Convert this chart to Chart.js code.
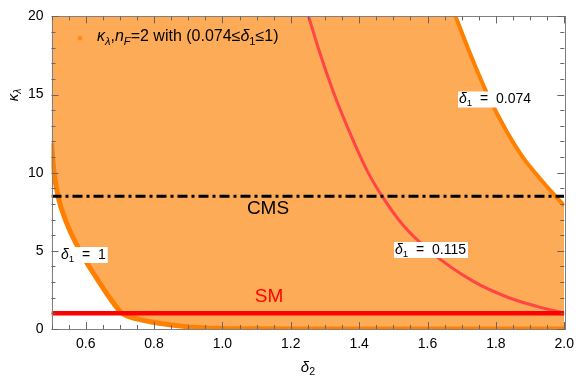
<!DOCTYPE html>
<html>
<head>
<meta charset="utf-8">
<script src="https://cdn.jsdelivr.net/npm/chart.js@4"></script>
<style>
  html, body { margin: 0; padding: 0; background: #fff; }
  #wrap { width: 581px; height: 382px; position: relative; }
</style>
</head>
<body>
<div id="wrap"><canvas id="c"></canvas></div>
<script>
// delta1 = 1 boundary (left)
const leftX = [0.5, 0.507, 0.519, 0.544, 0.583, 0.632, 0.67, 0.707, 0.75, 0.814, 0.91, 1.0, 1.1, 1.3, 2.0];
const leftY = [11.9, 10.1, 8.5, 6.8, 5.0, 3.25, 2.0, 1.0, 0.65, 0.37, 0.12, 0.04, 0.01, 0.0, 0.0];
// delta1 = 0.115 curve
const midX = [1.252, 1.283, 1.324, 1.372, 1.424, 1.467, 1.53, 1.606, 1.733, 1.838, 1.92, 2.0];
const midY = [20, 17.8, 15.2, 12.6, 10.1, 8.5, 6.6, 5.0, 3.06, 2.0, 1.45, 1.0];
// delta1 = 0.074 boundary (right)
const rightX = [1.682, 1.713, 1.74, 1.78, 1.83, 1.88, 1.93, 1.974, 2.0];
const rightY = [20, 18.25, 16.8, 14.8, 12.7, 10.95, 9.6, 8.5, 7.9];
const cmsValue = 8.5;
const smValue = 1;
const xRange = [0.5, 2.0];
const yRange = [0, 20];
const xTicks = [0.6, 0.8, 1.0, 1.2, 1.4, 1.6, 1.8, 2.0];
const yTicks = [0, 5, 10, 15, 20];

const FONT = "'Liberation Sans', Arial, sans-serif";
const pts = (xs, ys) => xs.map((x, i) => ({ x: x, y: ys[i] }));

function richWidth(ctx, parts, size) {
  let w = 0;
  parts.forEach(p => {
    const s = p.sub ? size * 0.7 : size;
    ctx.font = (p.italic ? 'italic ' : '') + s + 'px ' + FONT;
    w += ctx.measureText(p.t).width;
  });
  return w;
}
function drawRich(ctx, parts, x, y, size, color) {
  ctx.save();
  ctx.fillStyle = color;
  ctx.textBaseline = 'middle';
  ctx.textAlign = 'left';
  parts.forEach(p => {
    const s = p.sub ? size * 0.7 : size;
    ctx.font = (p.italic ? 'italic ' : '') + s + 'px ' + FONT;
    ctx.fillText(p.t, x, p.sub ? y + size * 0.3 : y);
    x += ctx.measureText(p.t).width;
  });
  ctx.restore();
}

const annotations = {
  id: 'annotations',
  afterDatasetsDraw(chart) {
    const { ctx, chartArea: a, scales: { x, y } } = chart;
    // frame
    ctx.save();
    ctx.strokeStyle = '#808080';
    ctx.lineWidth = 1;
    ctx.strokeRect(Math.round(a.left) + 0.5, Math.round(a.top) + 0.5,
      Math.round(a.right - a.left), Math.round(a.bottom - a.top));
    // inner ticks
    ctx.strokeStyle = '#666';
    ctx.beginPath();
    for (let v = 0.5; v <= 2.0001; v += 0.05) {
      const px = Math.round(x.getPixelForValue(v)) + 0.5;
      const major = xTicks.some(t => Math.abs(t - v) < 1e-6);
      const len = major ? 7 : 4;
      ctx.moveTo(px, a.bottom); ctx.lineTo(px, a.bottom - len);
      ctx.moveTo(px, a.top); ctx.lineTo(px, a.top + len);
    }
    for (let v = 0; v <= 20; v += 1) {
      const py = Math.round(y.getPixelForValue(v)) + 0.5;
      const len = yTicks.includes(v) ? 7 : 4;
      ctx.moveTo(a.left, py); ctx.lineTo(a.left + len, py);
      ctx.moveTo(a.right, py); ctx.lineTo(a.right - len, py);
    }
    ctx.stroke();
    ctx.restore();

    // boxed curve labels
    const boxes = [
      { parts: [{ t: 'δ', italic: true }, { t: '1', sub: true }, { t: '  =  1' }], x: 61, y: 255 },
      { parts: [{ t: 'δ', italic: true }, { t: '1', sub: true }, { t: '  =  0.115' }], x: 395, y: 250 },
      { parts: [{ t: 'δ', italic: true }, { t: '1', sub: true }, { t: '  =  0.074' }], x: 459, y: 99.5 }
    ];
    boxes.forEach(b => {
      const w = richWidth(ctx, b.parts, 14);
      ctx.fillStyle = '#fff';
      ctx.fillRect(b.x - 1, b.y - 8, w + 3, 16);
      drawRich(ctx, b.parts, b.x, b.y, 14, '#000');
    });

    // line labels
    ctx.save();
    ctx.textAlign = 'center';
    ctx.textBaseline = 'middle';
    ctx.font = '19px ' + FONT;
    ctx.fillStyle = '#000';
    ctx.fillText('CMS', 268, 209);
    ctx.fillStyle = '#ff0000';
    ctx.fillText('SM', 269, 297);
    ctx.restore();

    // legend
    ctx.save();
    ctx.fillStyle = '#ff8c1a';
    ctx.beginPath();
    ctx.arc(80, 38, 2.5, 0, Math.PI * 2);
    ctx.fill();
    ctx.restore();
    drawRich(ctx, [
      { t: 'κ', italic: true }, { t: 'λ', italic: true, sub: true }, { t: ',' },
      { t: 'n', italic: true }, { t: 'F', italic: true, sub: true },
      { t: '=2 with (0.074≤' }, { t: 'δ', italic: true }, { t: '1', sub: true }, { t: '≤1)' }
    ], 97, 37, 16, '#000');

    // axis titles
    const xp = [{ t: 'δ', italic: true }, { t: '2', sub: true }];
    const xw = richWidth(ctx, xp, 15);
    drawRich(ctx, xp, (a.left + a.right) / 2 - xw / 2, 368, 15, '#000');
    ctx.save();
    ctx.translate(14, 95);
    ctx.rotate(-Math.PI / 2);
    const yp = [{ t: 'κ', italic: true }, { t: 'λ', italic: true, sub: true }];
    const yw = richWidth(ctx, yp, 15);
    drawRich(ctx, yp, -yw / 2, 0, 15, '#000');
    ctx.restore();
  }
};

const smooth = { cubicInterpolationMode: 'monotone', showLine: true, pointRadius: 0 };

new Chart(document.getElementById('c'), {
  type: 'scatter',
  data: {
    datasets: [
      { label: 'SM', data: [{ x: xRange[0], y: smValue }, { x: xRange[1], y: smValue }],
        showLine: true, borderColor: '#ff0000', borderWidth: 4.5, pointRadius: 0 },
      { label: 'CMS', data: [{ x: xRange[0], y: cmsValue }, { x: xRange[1], y: cmsValue }],
        showLine: true, borderColor: '#000', borderWidth: 3, borderDash: [10, 4, 3, 4], pointRadius: 0 },
      { label: 'delta1 = 0.115', data: pts(midX, midY), ...smooth,
        borderColor: '#ff4545', borderWidth: 3 },
      // left boundary: white below it (excluded region)
      { label: 'delta1 = 1', data: pts(leftX, leftY), ...smooth,
        borderColor: '#ff8000', borderWidth: 5, fill: 'start', backgroundColor: '#ffffff' },
      // right boundary: white above it (excluded region)
      { label: 'delta1 = 0.074', data: pts(rightX, rightY), ...smooth,
        borderColor: '#ff8000', borderWidth: 4, fill: 'end', backgroundColor: '#ffffff' },
      // allowed band
      { label: 'region', data: [{ x: xRange[0], y: yRange[1] }, { x: xRange[1], y: yRange[1] }],
        showLine: true, borderWidth: 0, borderColor: 'rgba(0,0,0,0)', pointRadius: 0,
        backgroundColor: '#feab57', fill: 'start' }
    ]
  },
  options: {
    animation: false,
    responsive: true,
    maintainAspectRatio: false,
    layout: { padding: { top: 9, right: 14, left: 0, bottom: 0 } },
    plugins: { legend: { display: false }, tooltip: { enabled: false } },
    scales: {
      x: {
        type: 'linear', min: xRange[0], max: xRange[1],
        afterBuildTicks: s => { s.ticks = xTicks.map(v => ({ value: v })); },
        afterFit: s => { s.height = 53; },
        grid: { display: false, drawTicks: false },
        border: { display: false },
        ticks: { padding: 7, color: '#000', font: { family: FONT, size: 14 },
          callback: v => Number(v).toFixed(1) }
      },
      y: {
        type: 'linear', min: yRange[0], max: yRange[1],
        afterBuildTicks: s => { s.ticks = yTicks.map(v => ({ value: v })); },
        afterFit: s => { s.width = 51.5; },
        grid: { display: false, drawTicks: false },
        border: { display: false },
        ticks: { padding: 8, color: '#000', font: { family: FONT, size: 14 } }
      }
    }
  },
  plugins: [annotations]
});
</script>
</body>
</html>
